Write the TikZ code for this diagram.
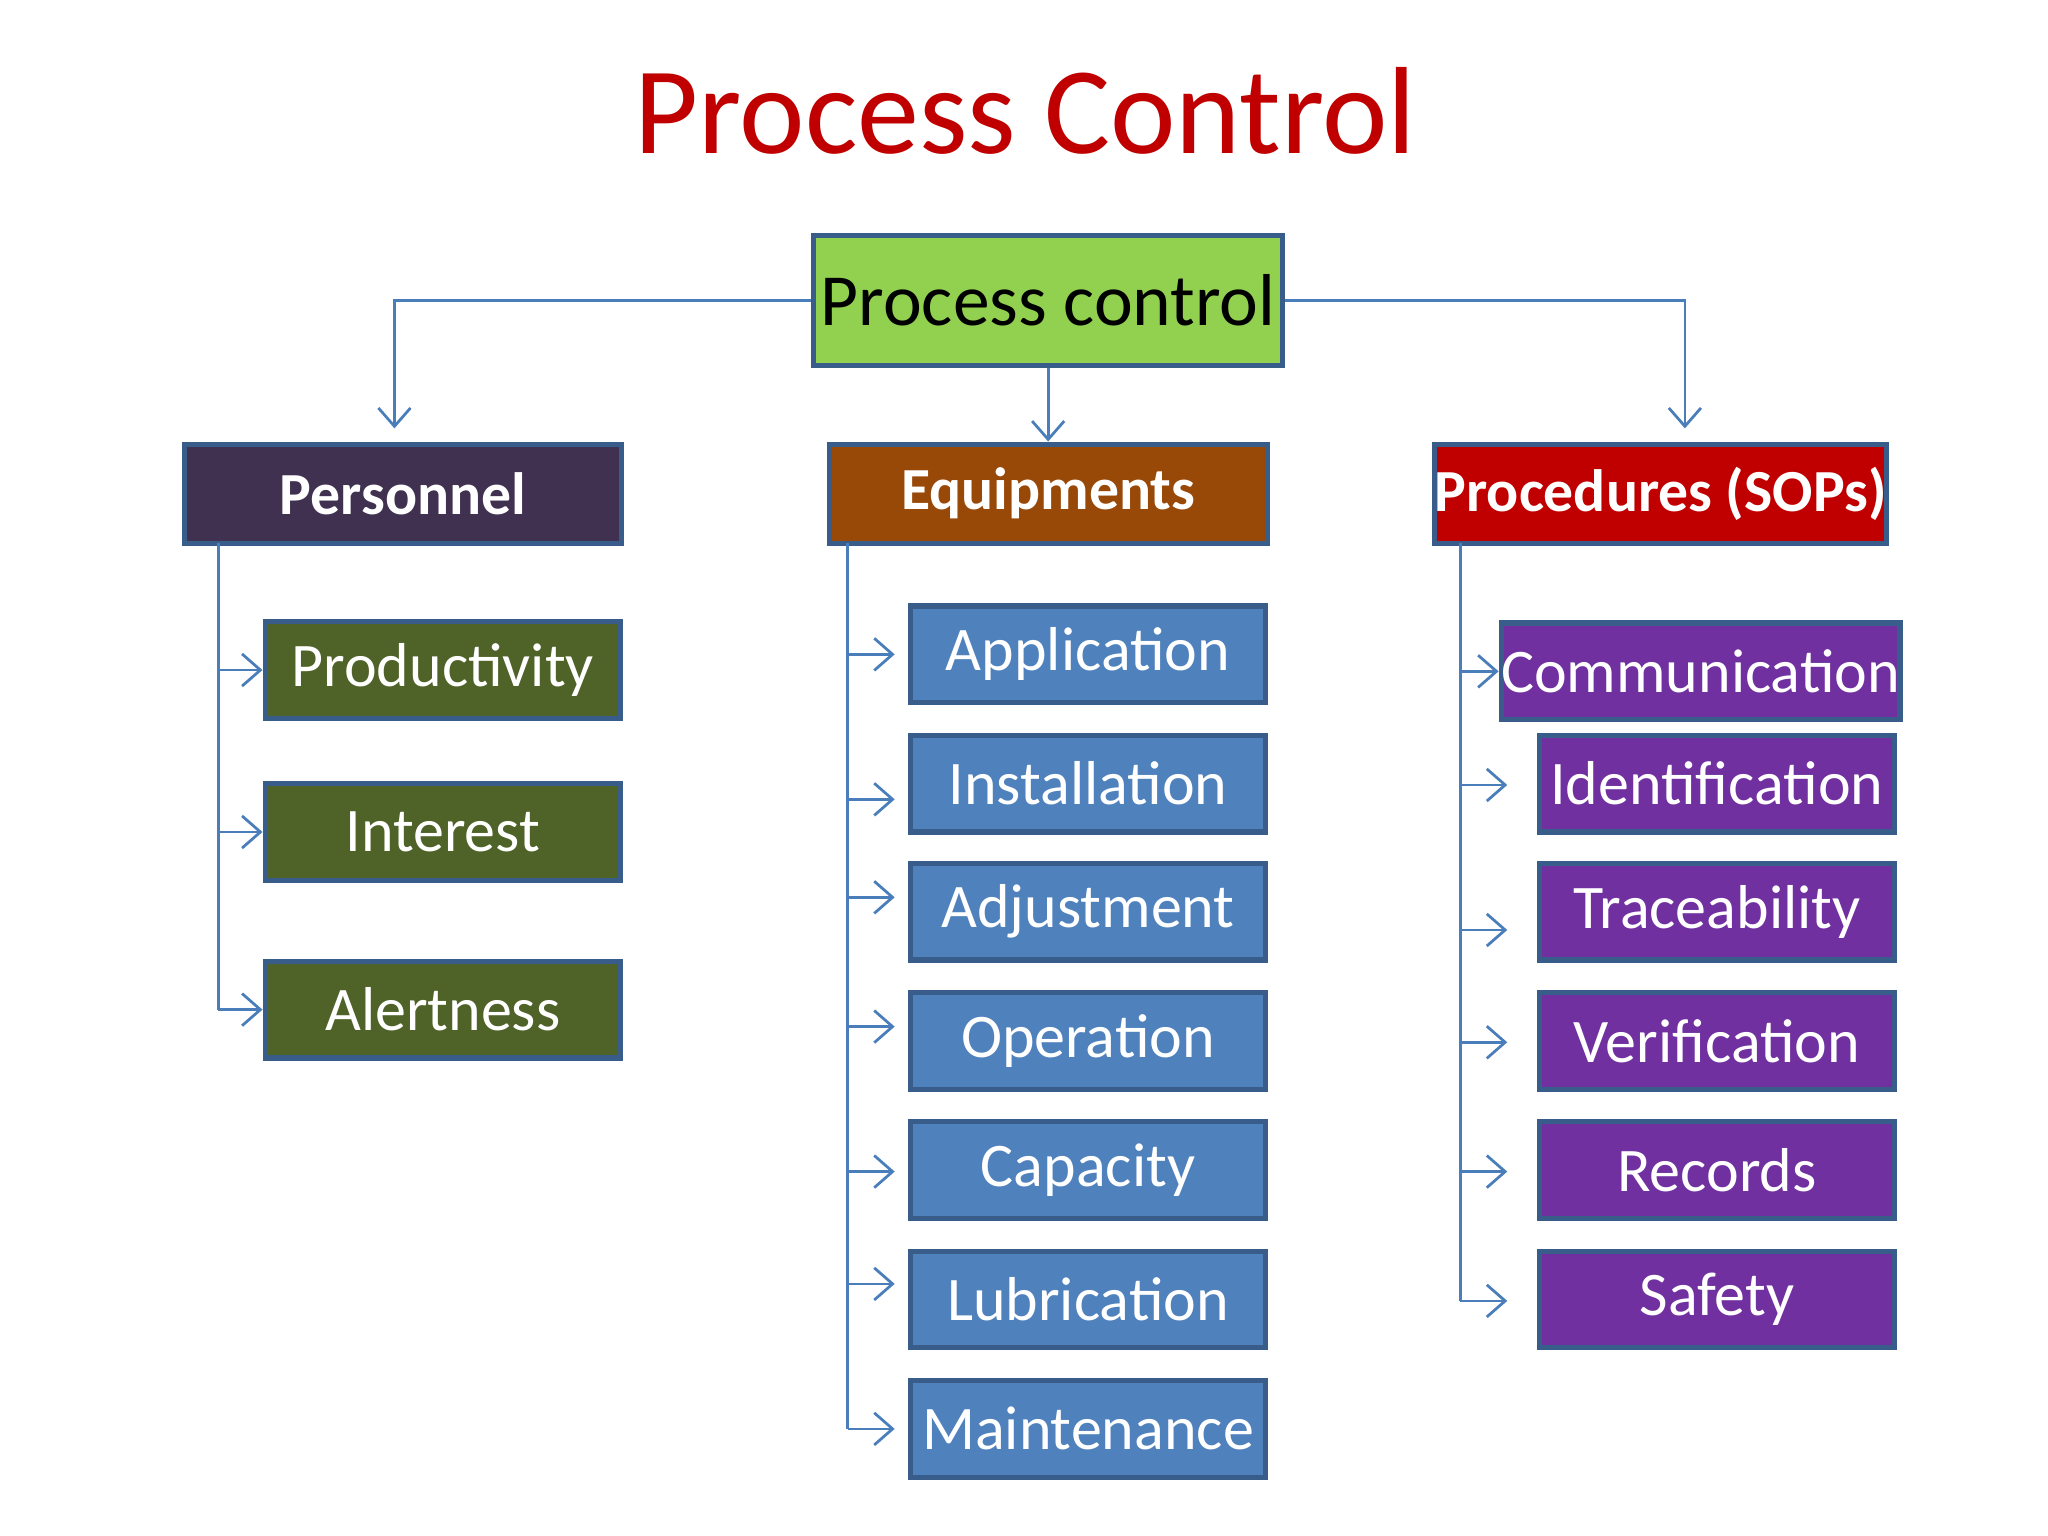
\documentclass[tikz,border=0pt]{standalone}
\usepackage{fontspec}
\setmainfont{Carlito}
\usetikzlibrary{arrows.meta}
\definecolor{linkblue}{HTML}{4A7EBB}
\definecolor{edgeblue}{HTML}{385D8A}
\definecolor{topgreen}{HTML}{92D050}
\definecolor{persfill}{HTML}{403151}
\definecolor{equipfill}{HTML}{984807}
\definecolor{procfill}{HTML}{C00000}
\definecolor{leafgreen}{HTML}{4F6228}
\definecolor{leafblue}{HTML}{4F81BD}
\definecolor{leafpurple}{HTML}{7030A0}
\definecolor{titlered}{HTML}{C00000}
\tikzset{
  box/.style={draw=edgeblue, line width=1.1pt, inner sep=0pt, text=white},
  head/.style={box, minimum width=3.35cm, minimum height=0.76cm, font=\fontsize{13}{15}\selectfont\bfseries},
  leaf/.style={box, minimum width=2.72cm, minimum height=0.74cm, font=\fontsize{13.5}{15}\selectfont},
  link/.style={draw=linkblue, line width=0.6pt},
  arr/.style={link, -{Straight Barb[length=4pt,width=7pt]}}
}
\begin{document}
\begin{tikzpicture}[x=0.01cm, y=-0.01cm]
\useasboundingbox (0,0) rectangle (1568,1176);

% Title
\node[text=titlered, font=\fontsize{27}{30}\selectfont] (title) at (785,85) {Process Control};

% Top box and the three branches
\node[box, fill=topgreen, text=black, minimum width=3.59cm, minimum height=1cm,
  font=\fontsize{16}{18}\selectfont] (top) at (802.5,230) {Process control};
\node[head, fill=persfill] (pers) at (308.5,378) {Personnel};
\node[head, fill=equipfill] (equip) at (802.5,378) {Equipments};
\node[head, fill=procfill] (proc) at (1271.5,378) {Procedures (SOPs)};

\coordinate (persin) at (302,328);
\coordinate (procin) at (1290,328);
\draw[arr] (top.west) -| (persin);
\draw[arr] (top.east) -| (procin);
\draw[arr] (top.south) -- (equip.north);

% Personnel leaves
\foreach \name/\yc/\txt in {prod/513/Productivity, inter/637/Interest, alert/773/Alertness}
  \node[leaf, fill=leafgreen] (\name) at (339,\yc) {\txt};
\coordinate (ptop) at (167,416);
\coordinate (pbot) at (167,773);
\draw[link] (ptop) -- (pbot);
\foreach \name in {prod, inter, alert}
  \draw[arr] (ptop |- \name.west) -- (\name.west);

% Equipment leaves
\foreach \name/\yc/\ya/\txt in {appl/501/501/Application, inst/600/612/Installation,
    adj/698/687/Adjustment, oper/797/786/Operation, cap/896/897/Capacity,
    lub/995/983/Lubrication, maint/1094/1094/Maintenance}{
  \node[leaf, fill=leafblue] (\name) at (833,\yc) {\txt};
  \coordinate (\name in) at (685,\ya);
}
\coordinate (etop) at (649,416);
\coordinate (ebot) at (649,1094);
\draw[link] (etop) -- (ebot);
\foreach \name in {appl, inst, adj, oper, cap, lub, maint}
  \draw[arr] (etop |- \name in) -- (\name in);

% Procedure leaves
\node[leaf, fill=leafpurple, minimum width=2.98cm] (comm) at (1302,514) {Communication};
\foreach \name/\yc/\txt in {ident/600/Identification, trace/698/Traceability,
    verif/797/Verification, rec/896/Records, safe/995/Safety}
  \node[leaf, fill=leafpurple] (\name) at (1314.5,\yc) {\txt};
\foreach \name/\ya in {ident/601, trace/712, verif/798, rec/897, safe/996}
  \coordinate (\name in) at (1154,\ya);
\coordinate (stop) at (1118,416);
\coordinate (sbot) at (1118,996);
\draw[link] (stop) -- (sbot);
\draw[arr] (stop |- comm.west) -- (comm.west);
\foreach \name in {ident, trace, verif, rec, safe}
  \draw[arr] (stop |- \name in) -- (\name in);
\end{tikzpicture}
\end{document}
